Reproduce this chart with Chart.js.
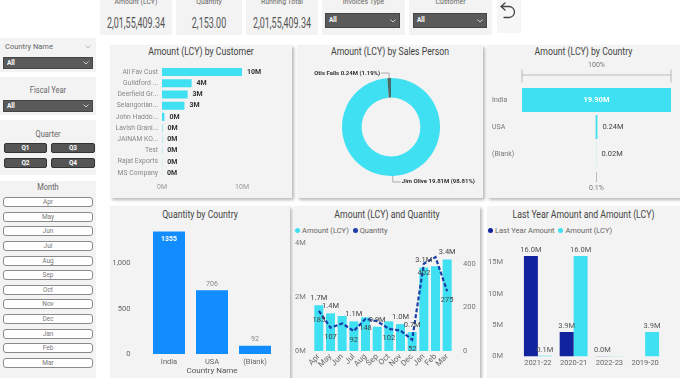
<!DOCTYPE html>
<html>
<head>
<meta charset="utf-8">
<title>Sales Dashboard</title>
<script src="https://cdn.jsdelivr.net/npm/chart.js@4.4.1/dist/chart.umd.min.js"></script>
<style>
* { box-sizing: border-box; }
html, body { margin:0; padding:0; background:#fff; }
body { width:680px; height:378px; position:relative; overflow:hidden; font-family: Roboto, "Noto Sans", sans-serif; color:#555; }
.box { position:absolute; background:#f3f3f3; }
.panel { position:absolute; background:#f3f3f3; box-shadow: 2px 2px 3px rgba(0,0,0,0.28); }
.panel canvas { position:absolute; left:0; top:0; }
.ttl { position:absolute; left:0; right:0; text-align:center; font-size:10px; color:#444; white-space:nowrap; line-height:12px; transform:scaleX(0.87); }
.kpi .lab { position:absolute; left:0; right:0; top:-3px; text-align:center; font-size:8px; color:#666; line-height:10px; white-space:nowrap; transform:scaleX(0.86); }
.kpi .val { position:absolute; left:-20px; right:-20px; top:15px; text-align:center; font-size:14px; line-height:16px; color:#555; white-space:nowrap; transform:scaleX(0.64); }
.dd { position:absolute; background:#5a5a5a; border:1px solid #444; color:#fff; font-size:6.5px; font-weight:bold; padding-left:3px; white-space:nowrap; }
.dd svg { position:absolute; right:3px; top:50%; margin-top:-2px; }
.slab { position:absolute; left:0; right:0; text-align:center; font-size:8.5px; color:#666; line-height:10px; transform:scaleX(0.88); }
.qb { position:absolute; background:#555; border:1px solid #333; border-radius:2px; color:#fff; font-size:6.5px; font-weight:bold; text-align:center; line-height:8px; }
.mb { position:absolute; left:3px; width:90px; height:10px; background:#fff; border:1px solid #8a8a8a; border-radius:3px; color:#777; font-size:6.5px; text-align:center; line-height:8px; }
.lg { position:absolute; font-size:7.5px; color:#666; white-space:nowrap; line-height:9px; }
.dot { display:inline-block; width:5px; height:5px; border-radius:50%; margin-right:2px; vertical-align:0px; }
</style>
</head>
<body>

<!-- KPI cards & top slicers -->
<div id="kpis"></div>
<div class="box kpi" style="left:322px;top:0;width:83px;height:35px"><div class="lab">Invoices Type</div>
  <div class="dd" style="left:3px;top:13px;width:75px;height:15px;line-height:13px">All<svg width="6" height="4" viewBox="0 0 6 4"><path d="M0.5 0.5 L3 3 L5.5 0.5" stroke="#ddd" fill="none" stroke-width="0.9"/></svg></div></div>
<div class="box kpi" style="left:409px;top:0;width:83px;height:35px"><div class="lab">Customer</div>
  <div class="dd" style="left:4px;top:13px;width:74px;height:15px;line-height:13px">All<svg width="6" height="4" viewBox="0 0 6 4"><path d="M0.5 0.5 L3 3 L5.5 0.5" stroke="#ddd" fill="none" stroke-width="0.9"/></svg></div></div>
<div class="box" style="left:497px;top:0;width:24px;height:33px;background:#f6f6f6">
  <svg width="24" height="33" viewBox="0 0 24 33"><path d="M4 6.5 L8 3 M4 6.5 L8 10 M4 6.5 H12 A5.5 5.5 0 0 1 12 17.5 H7" fill="none" stroke="#444" stroke-width="1.3" stroke-linecap="round"/></svg>
</div>

<!-- Left slicers -->
<div class="box" style="left:0;top:38px;width:96px;height:34px">
  <div style="position:absolute;left:5px;top:4px;font-size:7.5px;color:#666;line-height:9px">Country Name</div>
  <svg style="position:absolute;left:85px;top:7px" width="6" height="4" viewBox="0 0 6 4"><path d="M0.5 0.5 L3 3 L5.5 0.5" stroke="#aaa" fill="none" stroke-width="0.8"/></svg>
  <div class="dd" style="left:3px;top:19px;width:90px;height:12px;line-height:10px">All<svg width="6" height="4" viewBox="0 0 6 4"><path d="M0.5 0.5 L3 3 L5.5 0.5" stroke="#ddd" fill="none" stroke-width="0.9"/></svg></div>
</div>
<div class="box" style="left:0;top:77px;width:96px;height:38px">
  <div class="slab" style="top:8px">Fiscal Year</div>
  <div class="dd" style="left:3px;top:23px;width:90px;height:12px;line-height:10px">All<svg width="6" height="4" viewBox="0 0 6 4"><path d="M0.5 0.5 L3 3 L5.5 0.5" stroke="#ddd" fill="none" stroke-width="0.9"/></svg></div>
</div>
<div class="box" id="quarterBox" style="left:0;top:120px;width:96px;height:55px">
  <div class="slab" style="top:9px">Quarter</div>
</div>
<div class="box" id="monthBox" style="left:0;top:181px;width:96px;height:197px">
  <div class="slab" style="top:1px">Month</div>
</div>

<!-- Row 1 -->
<div class="panel" style="left:110px;top:45px;width:182px;height:153px">
  <div class="ttl" style="top:1px">Amount (LCY) by Customer</div>
  <canvas id="c1" width="182" height="153"></canvas>
</div>
<div class="panel" style="left:297px;top:45px;width:186px;height:153px">
  <div class="ttl" style="top:1px">Amount (LCY) by Sales Person</div>
  <canvas id="c2" width="186" height="153"></canvas>
</div>
<div class="panel" style="left:487px;top:45px;width:193px;height:153px">
  <div class="ttl" style="top:1px">Amount (LCY) by Country</div>
  <canvas id="c3" width="193" height="153"></canvas>
</div>

<!-- Row 2 -->
<div class="panel" style="left:110px;top:206px;width:180px;height:172px">
  <div class="ttl" style="top:3px">Quantity by Country</div>
  <canvas id="c4" width="180" height="172"></canvas>
</div>
<div class="panel" style="left:294px;top:206px;width:186px;height:172px">
  <div class="ttl" style="top:3px">Amount (LCY) and Quantity</div>
  <div class="lg" style="left:1px;top:20px"><span class="dot" style="background:#3EE0F1"></span>Amount (LCY) <span class="dot" style="background:#1A3DAA;margin-left:2px"></span>Quantity</div>
  <canvas id="c5" width="186" height="172"></canvas>
</div>
<div class="panel" style="left:487px;top:206px;width:193px;height:172px">
  <div class="ttl" style="top:3px">Last Year Amount and Amount (LCY)</div>
  <div class="lg" style="left:1px;top:20px"><span class="dot" style="background:#12239E"></span>Last Year Amount <span class="dot" style="background:#3EE0F1;margin-left:2px"></span>Amount (LCY)</div>
  <canvas id="c6" width="193" height="172"></canvas>
</div>

<script>
// ---------------- DATA ----------------
const kpiLabels = ['Amount (LCY)', 'Quantity', 'Running Total'];
const kpiValues = [20155409.34, 2153.00, 20155409.34];

const quarters = ['Q1', 'Q3', 'Q2', 'Q4'];
const months = ['Apr','May','Jun','Jul','Aug','Sep','Oct','Nov','Dec','Jan','Feb','Mar'];

const customerNames = ['All Fav Cust','Guildford ...','Deerfield Gr...','Selangorian...','John Haddo...','Lavish Grani...','JAINAM KO...','Test','Rajat Exports','MS Company'];
const customerAmounts = [10.0, 3.7, 3.2, 2.8, 0.3, 0.06, 0.04, 0.03, 0.02, 0.01]; // M
const customerTicks = [0, 10];

const salesPersons = ['Jim Olive', 'Otis Falls'];
const salesAmounts = [19.81, 0.24]; // M
const salesPercents = ['98.81%', '1.19%'];

const countryNames = ['India', 'USA', '(Blank)'];
const countryAmounts = [19.90, 0.24, 0.02]; // M
const countryQty = [1355, 706, 92];
const countryQtyTicks = [0, 500, 1000];

const monthAmounts = [1.7, 1.4, 1.3, 1.1, 1.25, 0.9, 1.1, 1.0, 0.7, 3.1, 3.15, 3.4]; // M
const monthQty = [185, 107, 127, 92, 148, 137, 102, 94, 52, 402, 432, 275];
const monthAmountLabelIdx = [0, 1, 3, 5, 7, 8, 9, 11];
const monthQtyLabelIdx = [0, 1, 3, 4, 6, 8, 9, 11];
const monthAmountTicks = [0, 2, 4];
const monthQtyTicks = [0, 200, 400];

const fiscalYears = ['2021-22', '2020-21', '2022-23', '2019-20'];
const lastYearAmounts = [16.0, 3.9, 0.04, null]; // M
const fyAmounts = [0.1, 16.0, 0.02, 3.9]; // M
const fyAmountLabelHidden = [2];
const fyTicks = [0, 5, 10, 15];

// ---------------- STYLE ----------------
const CYAN = '#3EE0F1', NAVY = '#12239E', QBLUE = '#1A3DAA', BLUE = '#118DFF', SLATE = '#4B6B68';
const BASEF = 'Roboto, "Noto Sans", sans-serif';
Chart.defaults.font.family = BASEF;
Chart.defaults.animation = false;
Chart.defaults.responsive = false;
Chart.defaults.maintainAspectRatio = false;
Chart.defaults.plugins.legend.display = false;
Chart.defaults.plugins.tooltip.enabled = false;

// ---------------- HTML widgets ----------------
const kpiBoxes = [[100, 72], [176, 66], [246, 72]];
kpiLabels.forEach((l, i) => {
  const d = document.createElement('div');
  d.className = 'box kpi';
  d.style.cssText = `left:${kpiBoxes[i][0]}px;top:0;width:${kpiBoxes[i][1]}px;height:35px`;
  const v = kpiValues[i].toLocaleString('en-IN', {minimumFractionDigits: 2, maximumFractionDigits: 2});
  d.innerHTML = `<div class="lab">${l}</div><div class="val">${v}</div>`;
  document.getElementById('kpis').appendChild(d);
});
const qb = document.getElementById('quarterBox');
quarters.forEach((q, i) => {
  const d = document.createElement('div');
  d.className = 'qb';
  d.style.cssText = `left:${i % 2 ? 51 : 4}px;top:${i < 2 ? 23 : 38}px;width:${i % 2 ? 44 : 43}px;height:10px`;
  d.textContent = q;
  qb.appendChild(d);
});
const mbx = document.getElementById('monthBox');
months.forEach((m, i) => {
  const d = document.createElement('div');
  d.className = 'mb';
  d.style.top = (16 + i * 14.64) + 'px';
  d.textContent = m;
  mbx.appendChild(d);
});

function ax(extra) {
  return Object.assign({ grid: { display: false, drawTicks: false }, border: { display: false } }, extra);
}
const setTicks = arr => s => { s.ticks = arr.map(v => ({ value: v })); };

// ---------------- 1. Amount by Customer ----------------
new Chart(document.getElementById('c1'), {
  type: 'bar',
  data: { labels: customerNames, datasets: [{ data: customerAmounts, backgroundColor: CYAN, barPercentage: 0.72, categoryPercentage: 1 }] },
  options: {
    indexAxis: 'y',
    layout: { padding: { left: 0, right: 30, top: 21.4, bottom: 3.4 } },
    scales: {
      x: ax({ min: 0, max: 12.5, afterBuildTicks: setTicks(customerTicks), afterFit: s => { s.height = 16; },
        ticks: { callback: v => v + 'M', font: { size: 7 }, color: '#999', padding: 4, maxRotation: 0 } }),
      y: ax({ afterFit: s => { s.width = 52; }, ticks: { font: { size: 6.8 }, color: '#888', padding: 4, autoSkip: false } })
    }
  },
  plugins: [{ id: 'l1', afterDatasetsDraw(chart) {
    const ctx = chart.ctx; ctx.save();
    ctx.font = 'bold 7px ' + BASEF; ctx.fillStyle = '#333'; ctx.textAlign = 'left'; ctx.textBaseline = 'middle';
    chart.getDatasetMeta(0).data.forEach((b, i) => ctx.fillText(Math.round(customerAmounts[i]) + 'M', b.x + 5, b.y));
    ctx.restore();
  } }]
});

// ---------------- 2. Amount by Sales Person ----------------
new Chart(document.getElementById('c2'), {
  type: 'doughnut',
  data: { labels: salesPersons, datasets: [{ data: salesAmounts, backgroundColor: [CYAN, SLATE], borderWidth: 0 }] },
  options: { cutout: '60%', layout: { padding: { left: 45, right: 43, top: 33, bottom: 22 } } },
  plugins: [{ id: 'l2', afterDatasetsDraw(chart) {
    const ctx = chart.ctx; ctx.save();
    ctx.font = 'bold 6px ' + BASEF; ctx.fillStyle = '#333'; ctx.strokeStyle = '#999'; ctx.lineWidth = 0.8; ctx.textBaseline = 'middle';
    chart.getDatasetMeta(0).data.forEach((a, i) => {
      const mid = (a.startAngle + a.endAngle) / 2;
      const px = a.x + Math.cos(mid) * a.outerRadius, py = a.y + Math.sin(mid) * a.outerRadius;
      const down = Math.sin(mid) > 0;
      const ey = down ? py + 6 : py - 5;
      const ex = down ? px + 8 : px - 8;
      ctx.beginPath(); ctx.moveTo(px, py); ctx.lineTo(px, ey); ctx.lineTo(ex, ey); ctx.stroke();
      const t = `${salesPersons[i]} ${salesAmounts[i].toFixed(2)}M (${salesPercents[i]})`;
      ctx.textAlign = down ? 'left' : 'right';
      ctx.fillText(t, down ? ex + 1 : ex - 1, ey);
    });
    ctx.restore();
  } }]
});

// ---------------- 3. Amount by Country (funnel) ----------------
const pct = v => Number((v * 100).toFixed(1)) + '%';
new Chart(document.getElementById('c3'), {
  type: 'bar',
  data: { labels: countryNames, datasets: [{ data: countryAmounts.map(v => [-v / 2, v / 2]), backgroundColor: CYAN, barPercentage: 0.89, categoryPercentage: 1 }] },
  options: {
    indexAxis: 'y',
    layout: { padding: { left: 5, right: 9, top: 41.5, bottom: 30.5 } },
    scales: {
      x: { display: false, min: -countryAmounts[0] / 2, max: countryAmounts[0] / 2 },
      y: ax({ afterFit: s => { s.width = 30; }, ticks: { crossAlign: 'far', font: { size: 7 }, color: '#777', padding: 0 } })
    }
  },
  plugins: [{ id: 'l3', afterDatasetsDraw(chart) {
    const ctx = chart.ctx, ca = chart.chartArea; ctx.save();
    const bars = chart.getDatasetMeta(0).data;
    const cx = (ca.left + ca.right) / 2;
    ctx.strokeStyle = '#aaa'; ctx.lineWidth = 0.8;
    const first = bars[0];
    ctx.beginPath();
    ctx.moveTo(first.base, ca.top - 17); ctx.lineTo(first.base, ca.top - 4);
    ctx.moveTo(first.x, ca.top - 17); ctx.lineTo(first.x, ca.top - 4);
    ctx.moveTo(first.base, ca.top - 11.5); ctx.lineTo(first.x, ca.top - 11.5);
    ctx.moveTo(cx, ca.bottom + 4.5); ctx.lineTo(cx, ca.bottom + 14.5);
    ctx.stroke();
    ctx.font = '7px ' + BASEF; ctx.fillStyle = '#777'; ctx.textAlign = 'center'; ctx.textBaseline = 'middle';
    ctx.fillText(pct(countryAmounts[0] / countryAmounts[0]), cx, ca.top - 21.5);
    ctx.fillText(pct(countryAmounts[countryAmounts.length - 1] / countryAmounts[0]), cx, ca.bottom + 20.5);
    bars.forEach((b, i) => {
      const t = countryAmounts[i].toFixed(2) + 'M';
      if (b.x - b.base > 40) {
        ctx.font = 'bold 7.5px ' + BASEF; ctx.fillStyle = '#fff'; ctx.textAlign = 'center';
        ctx.fillText(t, cx, b.y);
      } else {
        ctx.font = '7.5px ' + BASEF; ctx.fillStyle = '#444'; ctx.textAlign = 'left';
        ctx.fillText(t, Math.max(b.x, cx) + 5, b.y);
      }
    });
    ctx.restore();
  } }]
});

// ---------------- 4. Quantity by Country ----------------
new Chart(document.getElementById('c4'), {
  type: 'bar',
  data: { labels: countryNames, datasets: [{ data: countryQty, backgroundColor: BLUE, barPercentage: 0.744, categoryPercentage: 1 }] },
  options: {
    layout: { padding: { left: 0, right: 13.5, top: 25, bottom: 0 } },
    scales: {
      x: ax({ afterFit: s => { s.height = 24; }, ticks: { font: { size: 7.5 }, color: '#666', padding: 3.5 },
        title: { display: true, text: 'Country Name', font: { size: 8 }, color: '#555', padding: { top: 0, bottom: 2 } } }),
      y: ax({ min: 0, max: 1360, afterBuildTicks: setTicks(countryQtyTicks), afterFit: s => { s.width = 37.5; },
        ticks: { font: { size: 7.5 }, color: '#666', padding: 17, callback: v => v.toLocaleString('en-US') } })
    }
  },
  plugins: [{ id: 'l4', afterDatasetsDraw(chart) {
    const ctx = chart.ctx, ca = chart.chartArea; ctx.save();
    ctx.textAlign = 'center'; ctx.textBaseline = 'middle';
    chart.getDatasetMeta(0).data.forEach((b, i) => {
      if (b.y - 11 < ca.top) { ctx.font = 'bold 7px ' + BASEF; ctx.fillStyle = '#fff'; ctx.fillText(String(countryQty[i]), b.x, b.y + 8); }
      else { ctx.font = '7px ' + BASEF; ctx.fillStyle = '#888'; ctx.fillText(String(countryQty[i]), b.x, b.y - 6); }
    });
    ctx.restore();
  } }]
});

// ---------------- 5. Amount (LCY) and Quantity ----------------
new Chart(document.getElementById('c5'), {
  data: {
    labels: months,
    datasets: [
      { type: 'bar', label: 'Amount (LCY)', data: monthAmounts, backgroundColor: CYAN, yAxisID: 'y', order: 1, barPercentage: 0.77, categoryPercentage: 1 },
      { type: 'line', label: 'Quantity', data: monthQty, borderColor: QBLUE, borderWidth: 2.2, borderDash: [4, 2], pointRadius: 0, tension: 0, yAxisID: 'y1', order: 0 }
    ]
  },
  options: {
    layout: { padding: { left: 1, right: 0, top: 32, bottom: 0 } },
    scales: {
      x: ax({ afterFit: s => { s.height = 27; }, ticks: { font: { size: 8 }, color: '#666', padding: 1, minRotation: 45, maxRotation: 45, autoSkip: false } }),
      y: ax({ position: 'left', min: 0, max: 4.2, afterBuildTicks: setTicks(monthAmountTicks), afterFit: s => { s.width = 18; },
        ticks: { crossAlign: 'far', font: { size: 7.5 }, color: '#777', padding: 0, callback: v => v + 'M' } }),
      y1: ax({ position: 'right', min: 0, max: 520, afterBuildTicks: setTicks(monthQtyTicks), afterFit: s => { s.width = 27; },
        ticks: { font: { size: 7.5 }, color: '#777', padding: 10 } })
    }
  },
  plugins: [{ id: 'l5', afterDatasetsDraw(chart) {
    const ctx = chart.ctx; ctx.save();
    ctx.font = '7.5px ' + BASEF; ctx.fillStyle = '#444'; ctx.textAlign = 'center'; ctx.textBaseline = 'middle';
    const bars = chart.getDatasetMeta(0).data, pts = chart.getDatasetMeta(1).data;
    monthAmountLabelIdx.forEach(i => ctx.fillText(monthAmounts[i].toFixed(1) + 'M', bars[i].x, bars[i].y - 7));
    monthQtyLabelIdx.forEach(i => ctx.fillText(String(monthQty[i]), pts[i].x, pts[i].y + 9));
    ctx.restore();
  } }]
});

// ---------------- 6. Last Year Amount and Amount (LCY) ----------------
new Chart(document.getElementById('c6'), {
  type: 'bar',
  data: {
    labels: fiscalYears,
    datasets: [
      { label: 'Last Year Amount', data: lastYearAmounts, backgroundColor: NAVY, barPercentage: 1, categoryPercentage: 0.78 },
      { label: 'Amount (LCY)', data: fyAmounts, backgroundColor: CYAN, barPercentage: 1, categoryPercentage: 0.78 }
    ]
  },
  options: {
    layout: { padding: { left: 0, right: 17, top: 40.5, bottom: 0 } },
    scales: {
      x: ax({ afterFit: s => { s.height = 16; }, ticks: { font: { size: 7.5 }, color: '#666', padding: 2.5 } }),
      y: ax({ min: 0, max: 17.5, afterBuildTicks: setTicks(fyTicks), afterFit: s => { s.width = 33; },
        ticks: { font: { size: 7.5 }, color: '#777', padding: 17, callback: v => v + 'M' } })
    }
  },
  plugins: [{ id: 'l6', afterDatasetsDraw(chart) {
    const ctx = chart.ctx; ctx.save();
    ctx.font = '7.5px ' + BASEF; ctx.fillStyle = '#555'; ctx.textAlign = 'center'; ctx.textBaseline = 'middle';
    [lastYearAmounts, fyAmounts].forEach((arr, d) => {
      chart.getDatasetMeta(d).data.forEach((b, i) => {
        if (arr[i] == null) return;
        if (d === 1 && fyAmountLabelHidden.includes(i)) return;
        ctx.fillText(arr[i].toFixed(1) + 'M', b.x, b.y - 6);
      });
    });
    ctx.restore();
  } }]
});
</script>
</body>
</html>
